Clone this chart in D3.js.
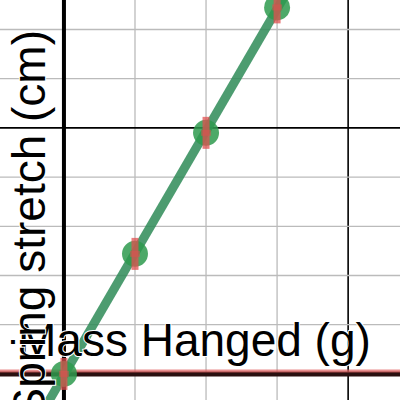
<!DOCTYPE html><html><head><script src="https://cdn.jsdelivr.net/npm/d3@7"></script>
<style>body{margin:0}svg{display:block}</style></head><body><script>
const massUnits=[0,1,2,3];
const stretch=[0,2.44,4.9,7.45];
const xLabel="Mass Hanged (g)", yLabel="Spring stretch (cm)";
const W=400,H=400;
const x=d3.scaleLinear().domain([-0.9,4.73]).range([0,W]);
const y=d3.scaleLinear().domain([-0.53,7.6]).range([H,0]);
const svg=d3.select("body").append("svg").attr("width",W).attr("height",H).style("background","#fff");
const minorX=d3.range(-1,6,1), minorY=d3.range(-1,9,1);
svg.selectAll(".gx").data(minorX).enter().append("line").attr("x1",d=>x(d)).attr("x2",d=>x(d)).attr("y1",0).attr("y2",H)
 .attr("stroke",d=>d%4===0?"#000":"#bbb").attr("stroke-width",d=>d%4===0?1.6:1.3);
svg.selectAll(".gy").data(minorY).enter().append("line").attr("y1",d=>y(d)).attr("y2",d=>y(d)).attr("x1",0).attr("x2",W)
 .attr("stroke",d=>d%5===0?"#000":"#bbb").attr("stroke-width",d=>d%5===0?1.6:1.3);
svg.append("line").attr("x1",x(0)).attr("x2",x(0)).attr("y1",0).attr("y2",H).attr("stroke","#000").attr("stroke-width",4);
svg.append("line").attr("y1",y(0)).attr("y2",y(0)).attr("x1",0).attr("x2",W).attr("stroke","#2a1010").attr("stroke-width",5);
svg.append("line").attr("y1",y(0)-3).attr("y2",y(0)-3).attr("x1",0).attr("x2",W).attr("stroke","#e06060").attr("stroke-opacity",0.7).attr("stroke-width",3);
const mx=d3.mean(massUnits),my=d3.mean(stretch);
const slope=d3.sum(massUnits,(v,i)=>(v-mx)*(stretch[i]-my))/d3.sum(massUnits,v=>(v-mx)**2), b=my-slope*mx;
svg.append("line").attr("x1",x(-0.5)).attr("y1",y(b+slope*-0.5)).attr("x2",x(3.2)).attr("y2",y(b+slope*3.2))
 .attr("stroke","#2e8b57").attr("stroke-opacity",0.85).attr("stroke-width",9);
const pts=svg.selectAll(".p").data(massUnits).enter().append("g");
pts.append("circle").attr("cx",d=>x(d)).attr("cy",(d,i)=>y(stretch[i])).attr("r",13).attr("fill","#2e9a4e").attr("fill-opacity",0.85);
pts.append("line").attr("x1",d=>x(d)).attr("x2",d=>x(d)).attr("y1",(d,i)=>y(stretch[i])-16).attr("y2",(d,i)=>y(stretch[i])+16)
 .attr("stroke","#e05050").attr("stroke-opacity",0.75).attr("stroke-width",7);
pts.append("line").attr("x1",d=>x(d)-5).attr("x2",d=>x(d)+5).attr("y1",(d,i)=>y(stretch[i])).attr("y2",(d,i)=>y(stretch[i]))
 .attr("stroke","#e05050").attr("stroke-opacity",0.5).attr("stroke-width",6);
const txt=s=>s.attr("font-family","Liberation Sans, Arial").attr("font-size",46).attr("fill","#000")
 .attr("stroke","#fff").attr("stroke-width",2).attr("paint-order","stroke");
txt(svg.append("text").attr("x",18).attr("y",356).text(xLabel));
txt(svg.append("text").attr("transform","translate(45,30) rotate(-90)").attr("text-anchor","end").text(yLabel));
</script></body></html>
